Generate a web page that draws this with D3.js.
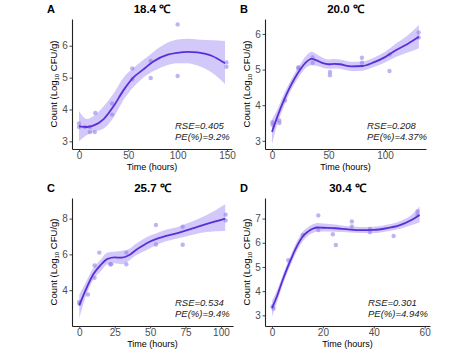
<!DOCTYPE html>
<html><head><meta charset="utf-8">
<script src="https://cdn.jsdelivr.net/npm/d3@7"></script>
<style>
body{margin:0;background:#fff;}
svg{display:block;font-family:"Liberation Sans",Arial,Helvetica,sans-serif;}
</style></head>
<body><svg id="chart" width="474" height="355"></svg>
<script>
// ---------- DATA ----------
const panelLabels = ["A","B","C","D"];
const panelTitles = ["18.4 \u2103","20.0 \u2103","25.7 \u2103","30.4 \u2103"];
const rseLabels = ["RSE=0.405","RSE=0.208","RSE=0.534","RSE=0.301"];
const peLabels = ["PE(%)=9.2%","PE(%)=4.37%","PE(%)=9.4%","PE(%)=4.94%"];

// Panel A (18.4 C)
const obsTimeA = [0,0,6,11,11,16,16.5,33.5,33.5,54,54,72.7,72.7,100,100,149.5,149.5];
const obsCountA = [3.56,3.45,3.45,3.45,3.29,3.29,3.89,4.19,3.84,5.29,4.95,5.52,4.99,6.67,5.05,5.48,5.34];
const fitTimeA = [0,8,15,25,35,45,55,65,75,90,100,110,120,135,148];
const fitA =   [3.47,3.45,3.5,3.7,4.1,4.6,5.0,5.25,5.5,5.72,5.78,5.81,5.79,5.68,5.45];
const lowerA = [3.0,3.2,3.3,3.4,3.75,4.3,4.7,5.0,5.2,5.4,5.45,5.45,5.38,5.15,4.8];
const upperA = [3.95,3.7,3.8,4.1,4.5,5.0,5.3,5.55,5.8,6.1,6.2,6.22,6.2,6.17,6.15];
const xTicksA = [0,50,100,150];
const yTicksA = [3,4,5,6];

// Panel B (20.0 C)
const obsTimeB = [0.3,0.5,6.5,6.5,11.5,23.3,23.3,36,36,51.3,51.3,79.6,79.6,104,104,129.8,129.8];
const obsCountB = [3.52,3.45,3.57,3.5,4.13,5.07,5.03,5.34,5.19,4.93,4.84,5.33,5.19,5.42,4.96,6.04,5.9];
const fitTimeB = [0,5,10,15,20,25,30,35,40,45,50,55,60,70,80,90,100,110,120,130];
const fitB =   [3.25,3.7,4.1,4.45,4.75,5.0,5.2,5.3,5.25,5.18,5.15,5.16,5.15,5.09,5.1,5.2,5.35,5.55,5.72,5.92];
const lowerB = [2.9,3.5,3.92,4.3,4.6,4.85,5.05,5.12,5.1,5.05,5.02,5.03,5.02,4.96,4.97,5.07,5.2,5.36,5.48,5.6];
const upperB = [3.6,3.9,4.28,4.6,4.9,5.15,5.38,5.5,5.42,5.33,5.28,5.3,5.28,5.22,5.23,5.33,5.5,5.74,5.96,6.25];
const xTicksB = [0,50,100];
const yTicksB = [3,4,5,6];

// Panel C (25.7 C)
const obsTimeC = [0,0,6.1,10.8,10.8,14.1,21.9,22.5,33.2,33.2,54.1,54.1,73,73,103.3,103.3];
const obsCountC = [3.35,3.25,3.76,4.69,5.38,6.1,5.45,5.45,6.1,5.45,7.64,6.55,7.54,6.54,8.22,7.9];
const fitTimeC = [0,5,10,15,20,25,30,35,40,45,50,55,60,70,80,90,103];
const fitC =   [3.15,4.1,4.9,5.4,5.75,5.83,5.82,5.95,6.25,6.5,6.72,6.88,7.0,7.2,7.45,7.7,8.0];
const lowerC = [2.45,3.75,4.6,5.05,5.45,5.5,5.45,5.65,5.95,6.15,6.35,6.55,6.7,6.9,7.1,7.25,7.3];
const upperC = [3.75,4.5,5.25,5.7,6.1,6.15,6.2,6.3,6.6,6.85,7.05,7.2,7.35,7.55,7.85,8.2,8.8];
const xTicksC = [0,25,50,75,100];
const yTicksC = [4,6,8];

// Panel D (30.4 C)
const obsTimeD = [0.2,0.6,6.4,12.1,18.2,18.2,23.9,25.1,31.4,31.4,38.5,38.5,47.8,57.2,57.2];
const obsCountD = [3.37,3.28,5.28,6.32,7.13,6.53,6.35,5.91,6.88,6.67,6.57,6.43,6.28,7.29,7.15];
const fitTimeD = [0,2,4,6,8,10,12,14,16,18,20,25,30,35,40,45,50,55,58];
const fitD =   [3.3,3.8,4.4,4.95,5.45,5.9,6.25,6.45,6.58,6.63,6.62,6.6,6.55,6.52,6.53,6.6,6.72,6.95,7.15];
const lowerD = [2.95,3.55,4.2,4.75,5.25,5.7,6.05,6.28,6.4,6.47,6.47,6.46,6.43,6.4,6.4,6.47,6.57,6.73,6.85];
const upperD = [3.6,4.05,4.6,5.15,5.65,6.1,6.45,6.63,6.76,6.82,6.8,6.75,6.68,6.65,6.66,6.74,6.88,7.17,7.5];
const xTicksD = [0,20,40,60];
const yTicksD = [3,4,5,6,7];

// ---------- DRAW ----------
const svg = d3.select("#chart");
const panels = [
  {obsT:obsTimeA, obsV:obsCountA, ft:fitTimeA, fit:fitA, lo:lowerA, up:upperA, xt:xTicksA, yt:yTicksA,
   box:{l:72,r:232,t:19,b:149}, xd:[-7.1,155.1], yd:[2.76,6.84], lab:{x:47,y:13}, ann:{x:175,y:129}},
  {obsT:obsTimeB, obsV:obsCountB, ft:fitTimeB, fit:fitB, lo:lowerB, up:upperB, xt:xTicksB, yt:yTicksB,
   box:{l:265,r:426,t:19,b:149}, xd:[-6.2,136.3], yd:[2.77,6.42], lab:{x:240,y:13}, ann:{x:367,y:129}},
  {obsT:obsTimeC, obsV:obsCountC, ft:fitTimeC, fit:fitC, lo:lowerC, up:upperC, xt:xTicksC, yt:yTicksC,
   box:{l:72,r:233,t:198,b:326}, xd:[-5.15,108.5], yd:[2.0,9.15], lab:{x:47,y:192}, ann:{x:175,y:306}},
  {obsT:obsTimeD, obsV:obsCountD, ft:fitTimeD, fit:fitD, lo:lowerD, up:upperD, xt:xTicksD, yt:yTicksD,
   box:{l:265,r:430,t:198,b:326}, xd:[-2.75,62.1], yd:[2.56,7.85], lab:{x:240,y:192}, ann:{x:368,y:306}}
];

panels.forEach((p,i)=>{
  const x = d3.scaleLinear().domain(p.xd).range([p.box.l,p.box.r]);
  const y = d3.scaleLinear().domain(p.yd).range([p.box.b,p.box.t]);
  const g = svg.append("g");

  const fitRows = p.ft.map((t,j)=>({t, f:p.fit[j], lo:p.lo[j], up:p.up[j]}));
  g.append("path").datum(fitRows)
    .attr("d", d3.area().curve(d3.curveMonotoneX).x(d=>x(d.t)).y0(d=>y(d.lo)).y1(d=>y(d.up)))
    .attr("fill","#a592f4").attr("fill-opacity",0.5);

  const obs = p.obsT.map((t,j)=>({t, v:p.obsV[j]}));
  g.selectAll("circle").data(obs).join("circle")
    .attr("cx",d=>x(d.t)).attr("cy",d=>y(d.v)).attr("r",2.2)
    .attr("fill","#9581e8").attr("fill-opacity",0.6);

  g.append("path").datum(fitRows)
    .attr("d", d3.line().curve(d3.curveMonotoneX).x(d=>x(d.t)).y(d=>y(d.f)))
    .attr("fill","none").attr("stroke","#5a2ed8").attr("stroke-width",1.8);

  const fmt = d3.format("d");
  const xa = g.append("g").attr("transform",`translate(0,${p.box.b})`)
    .call(d3.axisBottom(x).tickValues(p.xt).tickFormat(fmt).tickSize(2.5).tickSizeOuter(0).tickPadding(0.5));
  const ya = g.append("g").attr("transform",`translate(${p.box.l},0)`)
    .call(d3.axisLeft(y).tickValues(p.yt).tickFormat(fmt).tickSize(2.5).tickSizeOuter(0).tickPadding(1.8));
  [xa,ya].forEach(a=>{
    a.select(".domain").attr("stroke","#222").attr("stroke-width",1.1);
    a.selectAll(".tick line").attr("stroke","#333").attr("stroke-width",0.9);
    a.selectAll(".tick text").attr("fill","#4d4d4d").attr("font-size",10)
      .attr("font-family","Liberation Sans, Arial, sans-serif");
  });

  const cx = (p.box.l+p.box.r)/2, cy=(p.box.t+p.box.b)/2;
  svg.append("text").attr("x",p.lab.x).attr("y",p.lab.y).text(panelLabels[i])
    .attr("font-weight","bold").attr("font-size",11).attr("fill","#000");
  svg.append("text").attr("x",cx).attr("y",p.lab.y).text(panelTitles[i])
    .attr("text-anchor","middle").attr("font-weight","bold").attr("font-size",11.5).attr("fill","#000");
  svg.append("text").attr("x",cx).attr("y",p.box.b+20.5).text("Time (hours)")
    .attr("text-anchor","middle").attr("font-size",9).attr("fill","#000");

  const yt = svg.append("text").attr("transform",`translate(${p.box.l-15},${cy}) rotate(-90)`)
    .attr("text-anchor","middle").attr("font-size",9.5).attr("fill","#000");
  yt.append("tspan").text("Count (Log");
  yt.append("tspan").text("10").attr("font-size",6).attr("dy",2);
  yt.append("tspan").text(" CFU/g)").attr("dy",-2);

  svg.append("text").attr("x",p.ann.x).attr("y",p.ann.y).text(rseLabels[i])
    .attr("font-style","italic").attr("font-size",9.5).attr("fill","#1a1a1a");
  svg.append("text").attr("x",p.ann.x).attr("y",p.ann.y+10.5).text(peLabels[i])
    .attr("font-style","italic").attr("font-size",9.5).attr("fill","#1a1a1a");
});
</script></body></html>
